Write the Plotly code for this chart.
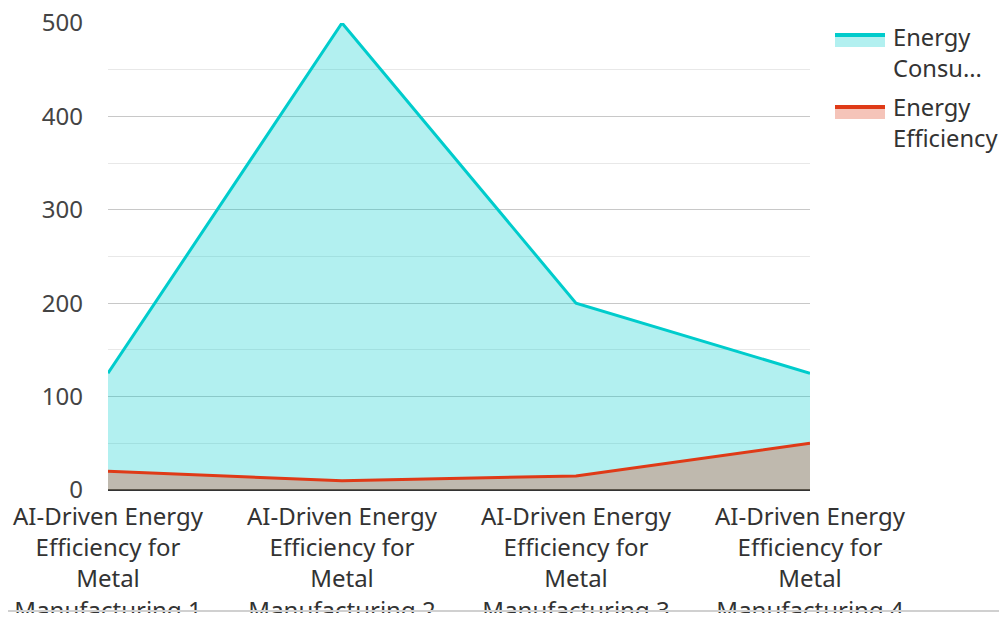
import plotly.graph_objects as go

categories = [
    "AI-Driven Energy<br>Efficiency for<br>Metal<br>Manufacturing 1",
    "AI-Driven Energy<br>Efficiency for<br>Metal<br>Manufacturing 2",
    "AI-Driven Energy<br>Efficiency for<br>Metal<br>Manufacturing 3",
    "AI-Driven Energy<br>Efficiency for<br>Metal<br>Manufacturing 4",
]
energy_consumption = [125, 500, 200, 125]
energy_efficiency = [20, 10, 15, 50]
series_names = ["Energy<br>Consu...", "Energy<br>Efficiency"]
line_colors = ["#00CCCC", "#DF3A17"]
fill_colors = ["rgba(0,204,204,0.3)", "rgba(223,58,23,0.3)"]

# figure geometry (page has an 8px body offset)
OFF = 8
W, H = 999, 605
PL, PR, PT, PB = 100, 802, 15, 482  # plot area in figure pixels


def px(xp):  # page x -> paper x
    return (xp - OFF - PL) / (PR - PL)


def py(yp):  # page y -> paper y
    return (PB - (yp - OFF)) / (PB - PT)


fig = go.Figure()
for name, vals, lc, fc in zip(series_names, [energy_consumption, energy_efficiency],
                              line_colors, fill_colors):
    fig.add_trace(go.Scatter(
        x=categories, y=vals, name=name, mode="lines", fill="tozeroy",
        line=dict(color=lc, width=3), fillcolor=fc, showlegend=False,
    ))

shapes = []
annotations = []
legend_rows = [(33, 52), (105, 123)]  # (line top page y, text center page y)
for (ytop, ytxt), name, lc, fc in zip(legend_rows, series_names, line_colors, fill_colors):
    shapes.append(dict(type="rect", xref="paper", yref="paper", layer="above",
                       x0=px(835), x1=px(885), y0=py(ytop + 4), y1=py(ytop + 14),
                       fillcolor=fc, line=dict(width=0)))
    shapes.append(dict(type="rect", xref="paper", yref="paper", layer="above",
                       x0=px(835), x1=px(885), y0=py(ytop), y1=py(ytop + 4),
                       fillcolor=lc, line=dict(width=0)))
    annotations.append(dict(xref="paper", yref="paper", x=px(891), y=py(ytxt),
                            xanchor="left", yanchor="middle", align="left",
                            showarrow=False, text=name,
                            font=dict(size=23.7, color="#333333")))

# bottom divider line
shapes.append(dict(type="line", xref="paper", yref="paper", layer="above",
                   x0=px(0), x1=px(1010), y0=py(611), y1=py(611),
                   line=dict(color="#d0d0d0", width=2)))

fig.update_layout(
    width=W, height=H,
    margin=dict(l=PL, r=W - PR, t=PT, b=H - PB, autoexpand=False),
    paper_bgcolor="white", plot_bgcolor="white",
    font=dict(family="Noto Sans", size=24, color="#333333"),
    showlegend=False,
    xaxis=dict(range=[0, 3], showgrid=False, zeroline=False, showline=False,
               tickfont=dict(size=24, color="#333333"), ticks="",
               ticklabelstandoff=10, automargin=False, ticklabeloverflow="allow"),
    yaxis=dict(range=[0, 500], dtick=100, showgrid=True, gridcolor="#c8c8c8",
               gridwidth=1, zeroline=True, zerolinecolor="#333333", zerolinewidth=2,
               showline=False, ticks="", ticklabelstandoff=24,
               ticklabeloverflow="allow",
               tickfont=dict(size=24, color="#444444"), automargin=False,
               minor=dict(dtick=50, showgrid=True, gridcolor="#e8e8e8", gridwidth=1)),
    shapes=shapes,
    annotations=annotations,
)

fig.write_html("out.html")
